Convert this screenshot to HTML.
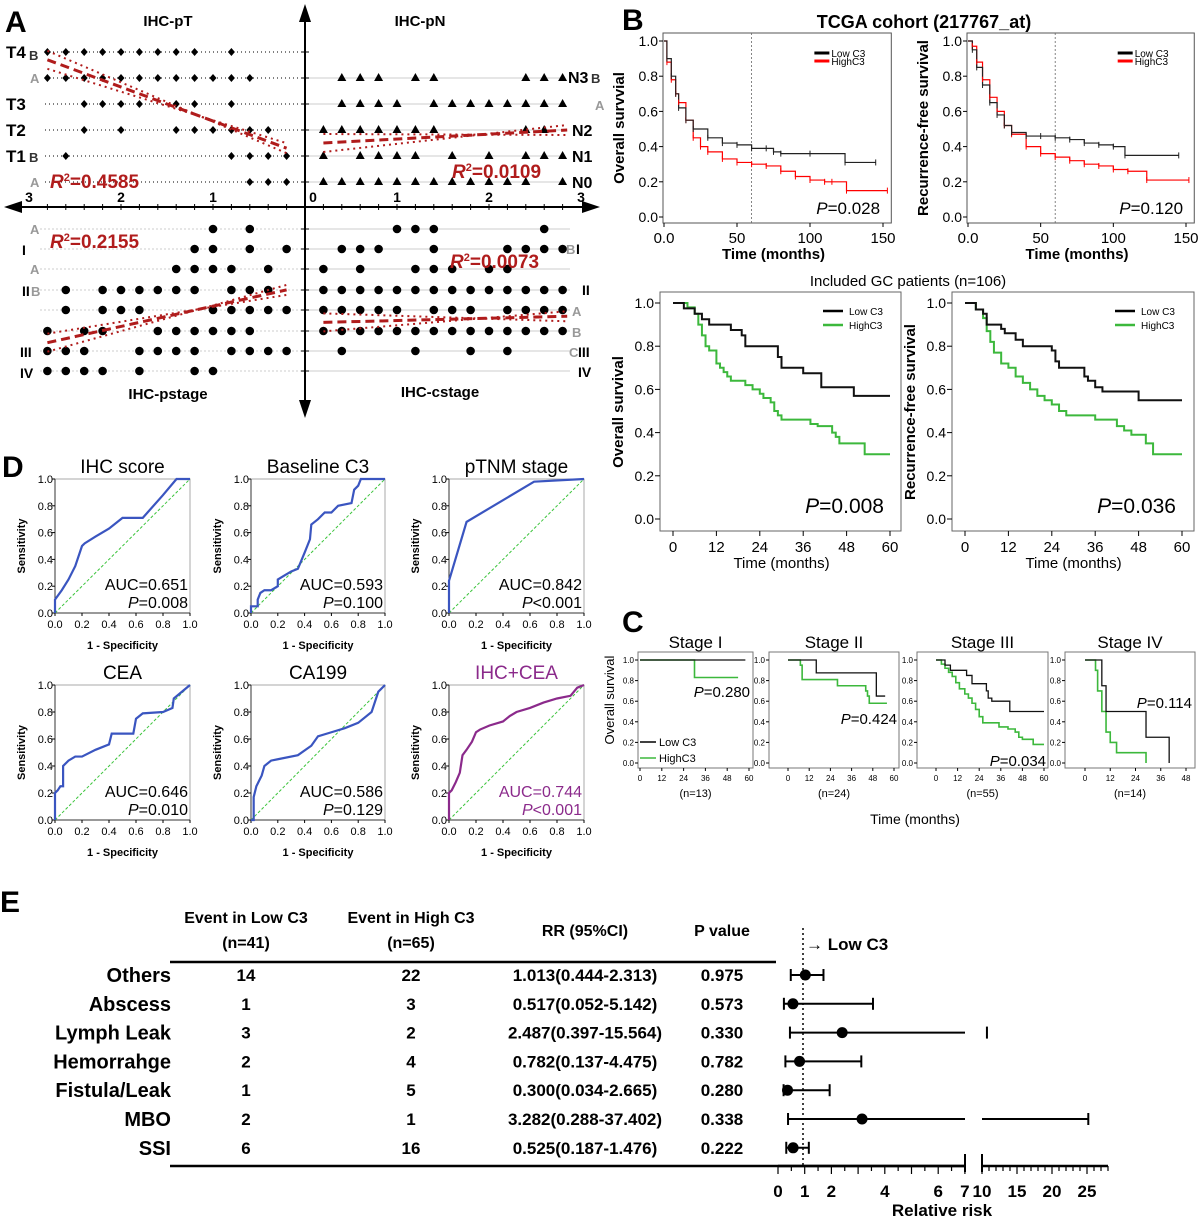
<!DOCTYPE html>
<html><head><meta charset="utf-8">
<style>
html,body{margin:0;padding:0;background:#fff;}
svg{display:block;font-family:"Liberation Sans",Arial,sans-serif;}
</style></head>
<body>
<svg id="fig" width="1200" height="1218" viewBox="0 0 1200 1218" xmlns="http://www.w3.org/2000/svg"></svg>
<script>
// ---------- Panel A data ----------
const aRowsTL = ["11111111101000","11111111111100","00111101101000","00101001111110","01000000001111","00000000000111"];
const aRowsTR = ["01110110000111","01111011111111","11111110000110","10111101010111","11111111111101"];
const aRowsBL = ["00000000010100","00000000110101","00000001111010","01011111101110","01011100011111","10110011111100","11100111101111","11110100110000"];
const aRowsBR = ["00001110000010","01110010001111","10100111011000","11111111111111","11111011101111","11111111111111","01000100101000"];
const aR2 = ["0.4585","0.0109","0.2155","0.0073"];
const regTL = [2.8,0.3,0.2,3.7];
const regTR = [0.2,3.5,2.85,3.0];
const regBL = [2.8,5.6,0.2,3.0];
const regBR = [0.2,4.6,2.85,4.3];
// ---------- Panel B data ----------
const bOsLowT=[0,2,5,8,10,15,20,30,40,50,60,70,75,80,100,124,145];
const bOsLowS=[1,.9,.8,.7,.62,.55,.5,.45,.42,.41,.39,.39,.37,.36,.36,.31,.31];
const bOsHighT=[0,2,5,8,10,15,20,25,30,40,50,60,70,80,90,100,110,115,125,153];
const bOsHighS=[1,.88,.78,.7,.65,.55,.45,.4,.37,.33,.31,.3,.29,.26,.23,.21,.2,.2,.15,.15];
const bRfsLowT=[0,3,6,10,15,20,25,30,40,50,60,70,80,90,100,108,145];
const bRfsLowS=[1,.95,.85,.75,.65,.58,.52,.48,.46,.46,.45,.44,.42,.41,.4,.35,.35];
const bRfsHighT=[0,3,6,10,15,20,25,30,40,50,60,70,80,90,100,110,123,152];
const bRfsHighS=[1,.97,.88,.78,.68,.6,.52,.47,.4,.36,.34,.32,.3,.29,.27,.26,.21,.21];
const gOsLowT=[0,3,6,8,10,16,19,20,29,30,36,41,50,60];
const gOsLowS=[1,.975,.95,.925,.9,.875,.85,.8,.75,.7,.675,.61,.57,.57];
const gOsHighT=[0,4,6,7,8,9,10,12,13,14,15,16,20,22,24,25,27,28,29,30,38,40,44,45,46,53,60];
const gOsHighS=[1,.98,.95,.9,.85,.8,.78,.72,.7,.68,.66,.64,.62,.6,.58,.56,.54,.5,.48,.46,.44,.43,.4,.38,.35,.3,.3];
const gRfsLowT=[0,3,5,6,10,11,14,16,24,25,26,33,34,36,38,48,60];
const gRfsLowS=[1,.97,.95,.9,.88,.86,.83,.8,.78,.73,.7,.66,.64,.61,.59,.55,.55];
const gRfsHighT=[0,3,5,6,7,8,10,12,14,16,18,20,22,24,26,28,36,42,44,46,50,52,60];
const gRfsHighS=[1,.97,.93,.87,.82,.77,.72,.7,.66,.63,.6,.57,.55,.53,.5,.48,.46,.43,.41,.39,.35,.3,.3];
// ---------- Panel C data ----------
const cTitles=["Stage I","Stage II","Stage III","Stage IV"];
const cN=["(n=13)","(n=24)","(n=55)","(n=14)"];
const cP=["0.280","0.424","0.034","0.114"];
const cLowT=[[0,58],[0,16,50,55],[0,5,8,17,20,28,29,31,41,60],[0,8,10,29,40]];
const cLowS=[[1,1],[1,.875,.65,.65],[1,.95,.9,.85,.77,.7,.63,.6,.5,.5],[1,.75,.5,.25,0]];
const cHighT=[[0,30,54],[0,7,8,28,44,45,46,56],[0,3,5,7,9,11,13,16,18,20,22,24,26,30,35,40,44,46,48,54,60],[0,5,6,8,10,12,15,29]];
const cHighS=[[1,.83,.83],[1,.95,.81,.75,.7,.65,.58,.58],[1,.96,.92,.88,.84,.78,.72,.67,.63,.58,.52,.45,.39,.39,.35,.33,.3,.25,.23,.18,.18],[1,.9,.7,.5,.3,.2,.1,0]];
// ---------- Panel D data ----------
const dTitles=["IHC score","Baseline C3","pTNM stage","CEA","CA199","IHC+CEA"];
const dAUC=["0.651","0.593","0.842","0.646","0.586","0.744"];
const dP=["=0.008","=0.100","<0.001","=0.010","=0.129","<0.001"];
const dFpr=[[0,0,.05,.1,.15,.2,.22,.3,.4,.5,.65,.8,.9,1],
 [0,0,.05,.05,.07,.1,.15,.2,.2,.25,.3,.35,.4,.42,.44,.45,.5,.55,.6,.65,.75,.77,.8,.82,1],
 [0,0,.13,.63,1],
 [0,0,.02,.04,.06,.06,.1,.15,.2,.3,.4,.42,.58,.6,.65,.8,.87,.88,1],
 [0,.02,.02,.04,.08,.1,.15,.2,.35,.45,.5,.6,.7,.8,.9,.95,1],
 [0,0,.02,.05,.08,.1,.13,.17,.2,.23,.3,.4,.45,.5,.6,.7,.8,.9,.95,1]];
const dTpr=[[0,.1,.17,.25,.35,.5,.52,.57,.63,.71,.71,.88,1,1],
 [0,.05,.05,.1,.15,.17,.17,.2,.25,.28,.31,.33,.45,.5,.55,.66,.7,.75,.75,.8,.82,.92,.95,1,1],
 [0,.24,.68,.98,1],
 [0,.2,.22,.25,.25,.4,.44,.47,.47,.52,.56,.64,.64,.75,.79,.8,.83,.9,1],
 [0,0,.17,.25,.33,.4,.44,.45,.48,.55,.62,.65,.68,.72,.8,.95,1],
 [0,.2,.22,.28,.35,.48,.52,.58,.65,.67,.7,.73,.77,.8,.83,.87,.9,.92,.98,1]];
// ---------- Panel E data ----------
const eCats=["Others","Abscess","Lymph Leak","Hemorrahge","Fistula/Leak","MBO","SSI"];
const eLow=["14","1","3","2","1","2","6"];
const eHigh=["22","3","2","4","5","1","16"];
const eRR=[1.013,0.517,2.487,0.782,0.300,3.282,0.525];
const eLo=[0.444,0.052,0.397,0.137,0.034,0.288,0.187];
const eHi=[2.313,5.142,15.564,4.475,2.665,37.402,1.476];
const ePv=["0.975","0.573","0.330","0.782","0.280","0.338","0.222"];
const eTicks1=[0,1,2,4,6,7];
const eTicks2=[10,15,20,25];

// ---------- helpers ----------
const NS="http://www.w3.org/2000/svg";
const svg=document.getElementById('fig');
function mk(tag,attrs,name,parent){
  const e=document.createElementNS(NS,tag);
  for(const k in attrs) e.setAttribute(k,attrs[k]);
  
  
  (parent||svg).appendChild(e);
  return e;
}
function tx(x,y,s,size,name,opt){
  opt=opt||{};
  const e=mk('text',{x:x,y:y,'font-size':size,'text-anchor':opt.anchor||'start','font-weight':opt.bold?'bold':'normal',fill:opt.fill||'#000'},name);
  if(opt.rot) e.setAttribute('transform','rotate(-90 '+x+' '+y+')');
  if(opt.italic) e.setAttribute('font-style','italic');
  e.textContent=s;
  return e;
}
function ln(x1,y1,x2,y2,name,stroke,w,dash){
  const a={x1:x1,y1:y1,x2:x2,y2:y2,stroke:stroke||'#000','stroke-width':w||1};
  if(dash) a['stroke-dasharray']=dash;
  return mk('line',a,name);
}
function stepPath(T,S,fx,fy){
  let d='M'+fx(T[0])+' '+fy(S[0]);
  for(let i=1;i<T.length;i++){d+=' H'+fx(T[i])+' V'+fy(S[i]);}
  return d;
}

// ================= PANEL A =================
tx(5,32,'A',30,'panel-a-label',{bold:true});
const AX=305, AY=207, AU=92;
const axL=v=>AX-v*AU, axR=v=>AX+v*AU;
const rowTop=[52,78,104,130,156,182];
const rowBot=[229,249,269,290,310,331,351,371];
tx(168,26,'IHC-pT',15,'title-ihc-pt',{bold:true,anchor:'middle'});
tx(420,26,'IHC-pN',15,'title-ihc-pn',{bold:true,anchor:'middle'});
tx(168,399,'IHC-pstage',15,'title-ihc-pstage',{bold:true,anchor:'middle'});
tx(440,397,'IHC-cstage',15,'title-ihc-cstage',{bold:true,anchor:'middle'});
aRowsTL.forEach((r,i)=>{ln(45,rowTop[i],AX,rowTop[i],'pt-guide-line','#000',1,'1 3');});
rowTop.slice(1).forEach((y,i)=>{ln(AX,y,565,y,'pn-guide-line','#ccc',1);});
rowBot.forEach(y=>{ln(40,y,AX,y,'pstage-guide-line','#ccc',1,'2 2');ln(AX,y,570,y,'cstage-guide-line','#ccc',1);});
ln(8,AY,596,AY,'a-x-axis','#000',2);
mk('polygon',{points:'4,207 22,201 22,213',fill:'#000'},'a-x-arrow-left');
mk('polygon',{points:'600,207 582,201 582,213',fill:'#000'},'a-x-arrow-right');
ln(AX,10,AX,412,'a-y-axis','#000',2);
mk('polygon',{points:'305,4 299,22 311,22',fill:'#000'},'a-y-arrow-top');
mk('polygon',{points:'305,418 299,400 311,400',fill:'#000'},'a-y-arrow-bottom');
for(let k=1;k<=14;k++){ln(axL(k*0.2),AY-3,axL(k*0.2),AY+3,'a-x-tick');ln(axR(k*0.2),AY-3,axR(k*0.2),AY+3,'a-x-tick');}
rowTop.concat(rowBot).forEach(y=>ln(AX-4,y,AX+4,y,'a-y-tick'));
[3,2,1].forEach(v=>tx(axL(v),202,String(v),14,'a-x-tick-label',{bold:true,anchor:'middle'}));
tx(313,202,'0',14,'a-x-tick-label',{bold:true,anchor:'middle'});
[1,2,3].forEach(v=>tx(axR(v),202,String(v),14,'a-x-tick-label',{bold:true,anchor:'middle'}));
const colL=k=>axL(2.8-0.2*k), colR=k=>axR(0.2+0.2*k);
aRowsTL.forEach((r,i)=>{[...r].forEach((c,k)=>{if(c==='1'){const x=colL(k),y=rowTop[i];mk('polygon',{points:`${x},${y-4} ${x+3.5},${y} ${x},${y+4} ${x-3.5},${y}`,fill:'#000'},'pt-diamond');}});});
aRowsTR.forEach((r,i)=>{[...r].forEach((c,k)=>{if(c==='1'){const x=colR(k),y=rowTop[i+1];mk('polygon',{points:`${x},${y-5} ${x+4.5},${y+3} ${x-4.5},${y+3}`,fill:'#000'},'pn-triangle');}});});
aRowsBL.forEach((r,i)=>{[...r].forEach((c,k)=>{if(c==='1'){mk('circle',{cx:colL(k),cy:rowBot[i],r:4.3,fill:'#000'},'pstage-dot');}});});
aRowsBR.forEach((r,i)=>{[...r].forEach((c,k)=>{if(c==='1'){mk('circle',{cx:colR(k),cy:rowBot[i],r:4.3,fill:'#000'},'cstage-dot');}});});
function rowYTop(v){return rowTop[0]+v*26;}
function rowYBot(v){return rowBot[0]+v*20.3;}
function reg(r,fx,fy,name){
  const x0=fx(r[0]),y0=fy(r[1]),x1=fx(r[2]),y1=fy(r[3]);
  ln(x0,y0,x1,y1,name,'#b01c1c',3,'9 5');
  ln(x0,y0-9,x1,y1+5,name+'-ci-upper','#b01c1c',2,'2 4');
  ln(x0,y0+9,x1,y1-5,name+'-ci-lower','#b01c1c',2,'2 4');
}
reg(regTL,axL,rowYTop,'reg-line-pt');
reg(regTR,axR,rowYTop,'reg-line-pn');
reg(regBL,axL,rowYBot,'reg-line-pstage');
reg(regBR,axR,rowYBot,'reg-line-cstage');
function r2(x,y,v,name){const t=tx(x,y,'',19,name,{bold:true,fill:'#b01c1c'});
  const a=document.createElementNS(NS,'tspan');a.setAttribute('font-style','italic');a.textContent='R';t.appendChild(a);
  const b=document.createElementNS(NS,'tspan');b.setAttribute('dy','-7');b.setAttribute('font-size','11');b.textContent='2';t.appendChild(b);
  const c=document.createElementNS(NS,'tspan');c.setAttribute('dy','7');c.textContent='='+v;t.appendChild(c);}
r2(50,188,aR2[0],'r2-pt');r2(452,178,aR2[1],'r2-pn');r2(50,248,aR2[2],'r2-pstage');r2(450,268,aR2[3],'r2-cstage');
const G='#999';
tx(6,58,'T4',17,'label-t4',{bold:true});tx(29,60,'B',13,'label-b',{bold:true,fill:'#333'});
tx(30,83,'A',13,'label-a',{bold:true,fill:G});
tx(6,110,'T3',17,'label-t3',{bold:true});
tx(6,136,'T2',17,'label-t2',{bold:true});
tx(6,162,'T1',17,'label-t1',{bold:true});tx(29,162,'B',13,'label-b',{bold:true,fill:'#333'});
tx(30,187,'A',13,'label-a',{bold:true,fill:G});
tx(568,83,'N3',16,'label-n3',{bold:true});tx(591,83,'B',13,'label-b',{bold:true,fill:'#333'});
tx(595,110,'A',13,'label-a',{bold:true,fill:G});
tx(572,136,'N2',16,'label-n2',{bold:true});
tx(572,162,'N1',16,'label-n1',{bold:true});
tx(572,188,'N0',16,'label-n0',{bold:true});
tx(30,234,'A',13,'label-a',{bold:true,fill:G});
tx(22,255,'I',14,'label-i',{bold:true});
tx(30,274,'A',13,'label-a',{bold:true,fill:G});
tx(22,296,'II',14,'label-ii',{bold:true});tx(31,296,'B',13,'label-b',{bold:true,fill:G});
tx(20,357,'III',14,'label-iii',{bold:true});
tx(20,378,'IV',14,'label-iv',{bold:true});
tx(566,254,'B',13,'label-b',{bold:true,fill:G});tx(576,254,'I',14,'label-i',{bold:true});
tx(582,295,'II',14,'label-ii',{bold:true});
tx(572,316,'A',13,'label-a',{bold:true,fill:G});
tx(572,337,'B',13,'label-b',{bold:true,fill:G});
tx(569,357,'C',13,'label-c',{bold:true,fill:G});tx(578,357,'III',14,'label-iii',{bold:true});
tx(578,377,'IV',14,'label-iv',{bold:true});

// ================= PANEL B =================
tx(622,30,'B',30,'panel-b-label',{bold:true});
tx(924,28,'TCGA cohort (217767_at)',18,'tcga-title',{bold:true,anchor:'middle'});
function kmTop(fx0,x0,x1,yLabel,lowT,lowS,highT,highS,p,nm){
  const fx=t=>fx0+t*(x1-fx0)/150, fy=s=>217-s*176;
  mk('rect',{x:fx0-1,y:33,width:fx(155)-fx0+2,height:190,fill:'none',stroke:'#555','stroke-width':1},nm+'-frame');
  ln(fx(60),33,fx(60),223,nm+'-60m-line','#666',0.8,'2 2');
  [0,.2,.4,.6,.8,1].forEach(v=>{ln(fx0-5,fy(v),fx0-1,fy(v),nm+'-y-tick');tx(fx0-6,fy(v)+5,v.toFixed(1),14,nm+'-y-tick-label',{anchor:'end'});});
  [0,50,100,150].forEach(v=>{ln(fx(v),223,fx(v),227,nm+'-x-tick');tx(fx(v),243,v===0?'0.0':String(v),15,nm+'-x-tick-label',{anchor:'middle'});});
  tx((fx0+fx(150))/2,259,'Time (months)',15,nm+'-x-title',{bold:true,anchor:'middle'});
  tx(fx0-40,128,yLabel,15,nm+'-y-title',{bold:true,anchor:'middle',rot:true});
  mk('path',{d:stepPath(highT,highS,fx,fy),fill:'none',stroke:'#f00','stroke-width':1.2},nm+'-high-curve');
  mk('path',{d:stepPath(lowT,lowS,fx,fy),fill:'none',stroke:'#222','stroke-width':1.2},nm+'-low-curve');
  for(let i=1;i<highT.length;i++){ln(fx(highT[i]),fy(highS[i])-3,fx(highT[i]),fy(highS[i])+3,nm+'-high-censor','#f00',1);}
  for(let i=1;i<lowT.length;i++){ln(fx(lowT[i]),fy(lowS[i])-3,fx(lowT[i]),fy(lowS[i])+3,nm+'-low-censor','#222',1);}
  const lx=fx(103);
  ln(lx,53,lx+15,53,nm+'-legend-low-swatch','#000',3);tx(lx+17,57,'Low C3',10,nm+'-legend-low');
  ln(lx,61,lx+15,61,nm+'-legend-high-swatch','#f00',3);tx(lx+17,65,'HighC3',10,nm+'-legend-high');
  const pt=tx(fx(148),214,'',17,nm+'-p-value',{anchor:'end'});
  const a=document.createElementNS(NS,'tspan');a.setAttribute('font-style','italic');a.textContent='P';pt.appendChild(a);
  const b=document.createElementNS(NS,'tspan');b.textContent='='+p;pt.appendChild(b);
}
kmTop(664,664,883,'Overall survvial',bOsLowT,bOsLowS,bOsHighT,bOsHighS,'0.028','tcga-os');
kmTop(968,968,1186,'Recurrence-free survival',bRfsLowT,bRfsLowS,bRfsHighT,bRfsHighS,'0.120','tcga-rfs');
tx(908,286,'Included GC patients (n=106)',15,'gc-title',{anchor:'middle'});
function kmGC(fx0,fx60,fl,fr,yLabel,lowT,lowS,highT,highS,p,nm){
  const fx=t=>fx0+t*(fx60-fx0)/60, fy=s=>519-s*216;
  mk('rect',{x:fl,y:292,width:fr-fl,height:239,fill:'none',stroke:'#666','stroke-width':1},nm+'-frame');
  [0,.2,.4,.6,.8,1].forEach(v=>{ln(fl-5,fy(v),fl,fy(v),nm+'-y-tick');tx(fl-6,fy(v)+5,v.toFixed(1),14,nm+'-y-tick-label',{anchor:'end'});});
  [0,12,24,36,48,60].forEach(v=>{ln(fx(v),531,fx(v),536,nm+'-x-tick');tx(fx(v),552,String(v),15,nm+'-x-tick-label',{anchor:'middle'});});
  tx((fx0+fx60)/2,568,'Time (months)',15,nm+'-x-title',{anchor:'middle'});
  tx(fl-37,412,yLabel,15,nm+'-y-title',{bold:true,anchor:'middle',rot:true});
  mk('path',{d:stepPath(highT,highS,fx,fy),fill:'none',stroke:'#3cb83c','stroke-width':2},nm+'-high-curve');
  mk('path',{d:stepPath(lowT,lowS,fx,fy),fill:'none',stroke:'#111','stroke-width':2},nm+'-low-curve');
  const lx=fl+163;
  ln(lx,311,lx+20,311,nm+'-legend-low-swatch','#000',2.5);tx(lx+26,315,'Low C3',10,nm+'-legend-low');
  ln(lx,325,lx+20,325,nm+'-legend-high-swatch','#3cb83c',2.5);tx(lx+26,329,'HighC3',10,nm+'-legend-high');
  const pt=tx(fx(60)-6,513,'',21,nm+'-p-value',{anchor:'end'});
  const a=document.createElementNS(NS,'tspan');a.setAttribute('font-style','italic');a.textContent='P';pt.appendChild(a);
  const b=document.createElementNS(NS,'tspan');b.textContent='='+p;pt.appendChild(b);
}
kmGC(673,890,660,901,'Overall survival',gOsLowT,gOsLowS,gOsHighT,gOsHighS,'0.008','gc-os');
kmGC(965,1182,952,1194,'Recurrence-free survival',gRfsLowT,gRfsLowS,gRfsHighT,gRfsHighS,'0.036','gc-rfs');

// ================= PANEL C =================
tx(622,632,'C',30,'panel-c-label',{bold:true});
const cFrames=[[638,753,640,749,60],[769,899,788,894,60],[917,1048,936,1044,60],[1065,1195,1085,1186,48]];
const cTicks=[[0,12,24,36,48,60],[0,12,24,36,48,60],[0,12,24,36,48,60],[0,12,24,36,48]];
const cPpos=[[750,697],[897,724],[1046,766],[1192,708]];
cFrames.forEach((f,i)=>{
  const nm='stage-'+(i+1);
  const fx=t=>f[2]+t*(f[3]-f[2])/f[4], fy=s=>763-s*103;
  mk('rect',{x:f[0],y:652,width:f[1]-f[0],height:116,fill:'none',stroke:'#777','stroke-width':1},nm+'-frame');
  tx((f[0]+f[1])/2,648,cTitles[i],17,nm+'-title',{anchor:'middle'});
  [0,.2,.4,.6,.8,1].forEach(v=>{ln(f[0]-3,fy(v),f[0],fy(v),nm+'-y-tick');tx(f[0]-4,fy(v)+3,v.toFixed(1),8,nm+'-y-tick-label',{anchor:'end'});});
  cTicks[i].forEach(v=>{ln(fx(v),768,fx(v),771,nm+'-x-tick');tx(fx(v),781,String(v),8,nm+'-x-tick-label',{anchor:'middle'});});
  tx((f[0]+f[1])/2,797,cN[i],11,nm+'-n',{anchor:'middle'});
  mk('path',{d:stepPath(cHighT[i],cHighS[i],fx,fy),fill:'none',stroke:'#3cb83c','stroke-width':1.6},nm+'-high-curve');
  mk('path',{d:stepPath(cLowT[i],cLowS[i],fx,fy),fill:'none',stroke:'#111','stroke-width':1.3},nm+'-low-curve');
  const pt=tx(cPpos[i][0],cPpos[i][1],'',15,nm+'-p-value',{anchor:'end'});
  const a=document.createElementNS(NS,'tspan');a.setAttribute('font-style','italic');a.textContent='P';pt.appendChild(a);
  const b=document.createElementNS(NS,'tspan');b.textContent='='+cP[i];pt.appendChild(b);
});
tx(614,700,'Overall survival',13,'stage-y-title',{anchor:'middle',rot:true});
ln(640,742,656,742,'stage-legend-low-swatch','#000',1.5);tx(659,746,'Low C3',11,'stage-legend-low');
ln(640,758,656,758,'stage-legend-high-swatch','#3cb83c',1.5);tx(659,762,'HighC3',11,'stage-legend-high');
tx(915,824,'Time (months)',14,'stage-x-title',{anchor:'middle'});

// ================= PANEL D =================
tx(2,477,'D',30,'panel-d-label',{bold:true});
const dX=[[55,190],[251,385],[449,584]];
const dY=[[479,613],[685,820]];
dTitles.forEach((t,i)=>{
  const nm='roc-'+(i+1);
  const [x0,x1]=dX[i%3],[y0,y1]=dY[Math.floor(i/3)];
  const fx=v=>x0+v*(x1-x0), fy=v=>y1-v*(y1-y0);
  const col=i===5?'#8b2a8b':'#3a55c0', tcol=i===5?'#8b2a8b':'#000';
  mk('rect',{x:x0,y:y0,width:x1-x0,height:y1-y0,fill:'none',stroke:'#aaa','stroke-width':1},nm+'-frame');
  ln(x0,y0,x0,y1,nm+'-y-axis','#333',1);ln(x0,y1,x1,y1,nm+'-x-axis','#333',1);
  [0,.2,.4,.6,.8,1].forEach(v=>{
    ln(x0-3,fy(v),x0,fy(v),nm+'-y-tick');tx(x0-2,fy(v)+4,v.toFixed(1),11,nm+'-y-tick-label',{anchor:'end'});
    ln(fx(v),y1,fx(v),y1+3,nm+'-x-tick');tx(fx(v),y1+15,v.toFixed(1),11,nm+'-x-tick-label',{anchor:'middle'});
  });
  tx((x0+x1)/2,y1+36,'1 - Specificity',11,nm+'-x-title',{bold:true,anchor:'middle'});
  tx(x0-30,(y0+y1)/2,'Sensitivity',11,nm+'-y-title',{bold:true,anchor:'middle',rot:true});
  tx((x0+x1)/2,y0-6,t,19,nm+'-title',{anchor:'middle',fill:tcol});
  ln(x0,y1,x1,y0,nm+'-reference-line','#3cc43c',1,'3 2');
  let d='';dFpr[i].forEach((v,k)=>{d+=(k?' L':'M')+fx(v)+' '+fy(dTpr[i][k]);});
  mk('path',{d:d,fill:'none',stroke:col,'stroke-width':2.2},nm+'-curve');
  tx(x1-2,y1-23,'AUC='+dAUC[i],16,nm+'-auc',{anchor:'end',fill:tcol});
  const pt=tx(x1-2,y1-5,'',16,nm+'-p-value',{anchor:'end',fill:tcol});
  const a=document.createElementNS(NS,'tspan');a.setAttribute('font-style','italic');a.textContent='P';pt.appendChild(a);
  const b=document.createElementNS(NS,'tspan');b.textContent=dP[i];pt.appendChild(b);
});

// ================= PANEL E =================
tx(0,912,'E',30,'panel-e-label',{bold:true});
tx(246,923,'Event in Low C3',16,'col-header-low',{bold:true,anchor:'middle'});
tx(246,948,'(n=41)',16,'col-header-low-n',{bold:true,anchor:'middle'});
tx(411,923,'Event in High C3',16,'col-header-high',{bold:true,anchor:'middle'});
tx(411,948,'(n=65)',16,'col-header-high-n',{bold:true,anchor:'middle'});
tx(585,936,'RR (95%CI)',16,'col-header-rr',{bold:true,anchor:'middle'});
tx(722,936,'P value',16,'col-header-p',{bold:true,anchor:'middle'});
ln(170,962,776,962,'table-top-rule','#000',2.5);
ln(170,1166,965,1166,'table-bottom-rule','#000',2.5);
const eY=k=>975+k*28.8;
const f1=v=>778+v*26.7, f2=v=>982+(v-10)*7;
// mark mappings (match the reference figure's drawn positions)
const fPt=v=>780+v*25;
const fCi=v=>v<=7?783+v*17.5:974.7+115.6*Math.log(v/14);
ln(803,928,803,1166,'rr-one-line','#000',1.5,'2 3');
tx(806,950,'→ Low C3',17,'low-c3-direction',{bold:true});
eCats.forEach((c,k)=>{
  const y=eY(k);
  tx(171,y+7,c,20,'row-label-'+(k+1),{bold:true,anchor:'end'});
  tx(246,y+6,eLow[k],17,'low-count',{bold:true,anchor:'middle'});
  tx(411,y+6,eHigh[k],17,'high-count',{bold:true,anchor:'middle'});
  tx(585,y+6,eRR[k].toFixed(3)+'('+eLo[k].toFixed(3)+'-'+eHi[k].toFixed(3)+')',17,'rr-ci',{bold:true,anchor:'middle'});
  tx(722,y+6,ePv[k],17,'p-value',{bold:true,anchor:'middle'});
  const xl=fCi(eLo[k]), xh=fCi(eHi[k]);
  if(eHi[k]>7){
    ln(xl,y,965,y,'ci-bar','#000',2);
    if(xh>990) ln(982,y,xh,y,'ci-bar-ext','#000',2);
  } else ln(xl,y,xh,y,'ci-bar','#000',2);
  ln(xl,y-6,xl,y+6,'ci-cap-low','#000',2);
  ln(xh,y-6,xh,y+6,'ci-cap-high','#000',2);
  mk('circle',{cx:fPt(eRR[k]),cy:y,r:5.5,fill:'#000'},'rr-point');
});
ln(778,1166,965,1166,'forest-axis-1','#000',2.5);
ln(982,1166,1108,1166,'forest-axis-2','#000',2.5);
for(let v=0;v<=7;v+=0.5) ln(f1(v),1166,f1(v),v%1?1171:1174,'forest-minor-tick','#000',1.2);
for(let v=10;v<=28;v+=1) ln(f2(v),1166,f2(v),v%5?1171:1174,'forest-minor-tick','#000',1.2);
ln(965,1154,965,1172,'axis-break-1','#000',2);ln(982,1154,982,1172,'axis-break-2','#000',2);
eTicks1.forEach(v=>tx(f1(v),1197,String(v),17,'forest-tick-label',{bold:true,anchor:'middle'}));
eTicks2.forEach(v=>tx(f2(v),1197,String(v),17,'forest-tick-label',{bold:true,anchor:'middle'}));
tx(942,1216,'Relative risk',17,'forest-x-title',{bold:true,anchor:'middle'});
</script>
</body></html>
